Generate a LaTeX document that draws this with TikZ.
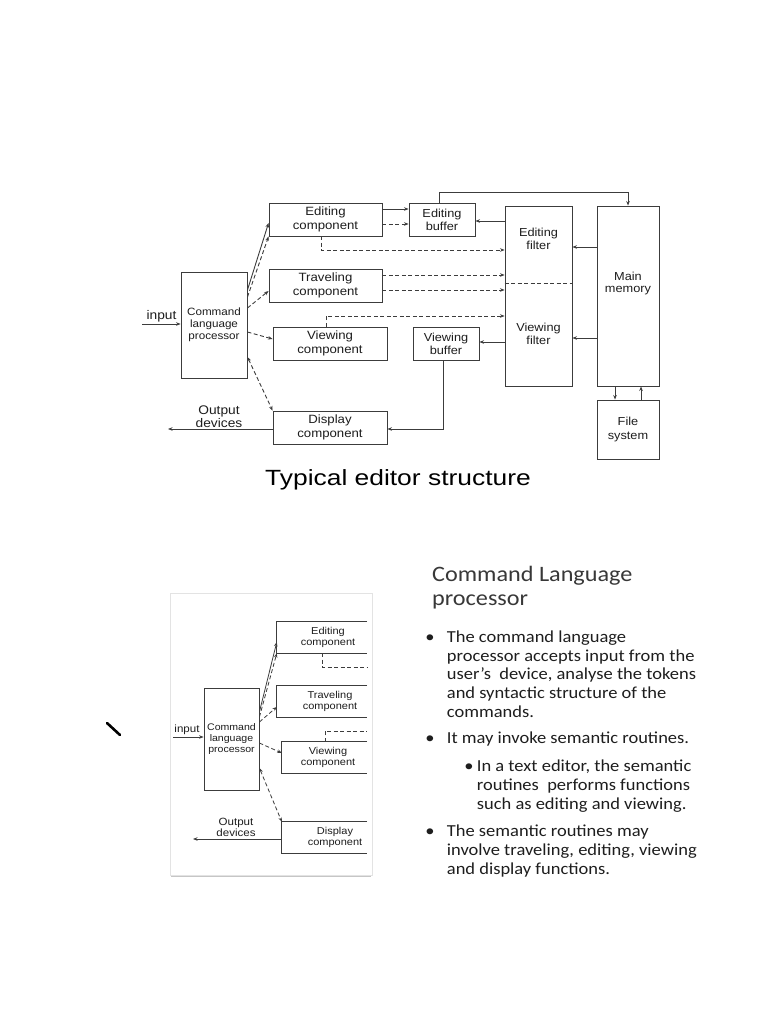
\documentclass[tikz,border=0pt]{standalone}
\usepackage{fontspec}
\usetikzlibrary{arrows.meta}
\newfontfamily\diagf[FakeStretch=1.1]{Liberation Sans}
\newfontfamily\titlef[FakeStretch=1.2]{Liberation Sans}
\newfontfamily\slidef[FakeStretch=1.1]{Carlito}
\definecolor{linec}{HTML}{3C3C3C}
\definecolor{textc}{HTML}{1E1E1E}
\definecolor{headc}{HTML}{383838}
\begin{document}
\begin{tikzpicture}[x=1pt,y=-1pt,
  ln/.style={draw=linec, line width=0.9pt},
  dsh/.style={dash pattern=on 4pt off 2.5pt},
  arr/.style={-{Stealth[length=4.5pt,width=3.5pt]}},
  box/.style={draw=linec, line width=0.9pt, inner sep=0pt, align=center, text=textc,
              font=\diagf\fontsize{11.6}{13.2}\selectfont},
  lbl/.style={inner sep=0pt, align=center, text=textc, font=\diagf\fontsize{11.6}{12.5}\selectfont},
  sbox/.style={inner sep=0pt, align=center, text=textc, font=\diagf\fontsize{10}{11.5}\selectfont},
  sline/.style={anchor=base west, inner sep=0pt, text=textc, font=\slidef\fontsize{16.8}{18.8}\selectfont},
  sdot/.style={anchor=base, inner sep=0pt, text=textc, font=\slidef\fontsize{16.8}{18.8}\selectfont}
]
\useasboundingbox (0,0) rectangle (768,1024);
\fill[white] (0,0) rectangle (768,1024);

% ---------------- top diagram ----------------
\node[box, minimum width=66pt, minimum height=106pt, font=\diagf\fontsize{10.6}{12}\selectfont] (clp) at (214,325) {Command\\language\\processor};
\node[box, minimum width=113pt, minimum height=33pt, font=\diagf\fontsize{12}{13.5}\selectfont] (ec) at (325.5,219.5) {Editing\\component};
\node[box, minimum width=113pt, minimum height=33pt, font=\diagf\fontsize{12}{13.5}\selectfont] (tc) at (325.5,285.5) {Traveling\\component};
\node[box, minimum width=114pt, minimum height=33pt, font=\diagf\fontsize{12}{13.5}\selectfont] (vc) at (330,343.5) {Viewing\\component};
\node[box, minimum width=114pt, minimum height=33pt, font=\diagf\fontsize{12}{13.5}\selectfont] (dc) at (330,427.5) {Display\\component};
\node[box, minimum width=66pt, minimum height=33pt] (eb) at (442,219.5) {Editing\\buffer};
\node[box, minimum width=66pt, minimum height=33pt] (vb) at (446,343.5) {Viewing\\buffer};
\node[box, minimum width=67pt, minimum height=180pt] (ef) at (538.5,296) {};
\node[lbl] (eft) at (538.5,239) {Editing\\filter};
\node[lbl] (vft) at (538.5,334) {Viewing\\filter};
\node[box, minimum width=62pt, minimum height=180pt] (mm) at (628,296) {};
\node[lbl] (mmt) at (628,283.5) {Main\\memory};
\node[box, minimum width=62pt, minimum height=59pt] (fs) at (628,429.5) {File\\system};

\node[lbl, font=\diagf\fontsize{12.5}{13.5}\selectfont] (inl) at (161.5,316) {input};
\coordinate (inS) at (142,324);
\draw[ln,arr] (inS) -- (clp.west |- inS);
\node[lbl, font=\diagf\fontsize{12.5}{13}\selectfont] (outl) at (219,417) {Output\\devices};
\coordinate (outE) at (168,429);
\draw[ln,arr] (dc.west |- outE) -- (outE);

% clp fan-out
\draw[ln,arr] (clp.east |- 0,290) -- (ec.west |- 0,223);
\draw[ln,dsh,arr] (clp.east |- 0,297) -- (ec.south west);
\draw[ln,dsh,arr] (clp.east |- 0,308) -- (tc.west |- 0,291);
\draw[ln,dsh,arr] (clp.east |- 0,332) -- (vc.west |- 0,339);
\draw[ln,dsh,{Stealth[length=4.5pt,width=3.5pt]}-{Stealth[length=4.5pt,width=3.5pt]}] (clp.east |- 0,357) -- (dc.north west);

% editing component links
\draw[ln,arr] (ec.east |- 0,209) -- (eb.west |- 0,209);
\draw[ln,dsh,arr] (ec.east |- 0,224) -- (eb.west |- 0,224);
\draw[ln,dsh,arr] (ec.south -| 321,0) -- (321,250) -- (ef.west |- 0,250);
% traveling
\draw[ln,dsh,arr] (tc.east |- 0,275) -- (ef.west |- 0,275);
\draw[ln,dsh,arr] (tc.east |- 0,290) -- (ef.west |- 0,290);
% viewing
\draw[ln,dsh,arr] (vc.north -| 326,0) -- (326,316) -- (ef.west |- 0,316);
% filters
\draw[ln,dsh] (ef.west |- 0,283) -- (ef.east |- 0,283);
\draw[ln,arr] (ef.west |- 0,221) -- (eb.east |- 0,221);
\draw[ln,arr] (mm.west |- 0,247) -- (ef.east |- 0,247);
\draw[ln,arr] (mm.west |- 0,338) -- (ef.east |- 0,338);
\draw[ln,arr] (ef.west |- 0,342) -- (vb.east |- 0,342);
% viewing buffer to display
\draw[ln,arr] (vb.south -| 443,0) -- (443,429) -- (dc.east |- 0,429);
% editing buffer to main memory
\draw[ln,arr] (eb.north -| 439,0) -- (439,192) -- (628,192) -- (mm.north);
% memory <-> file system
\draw[ln,arr] (mm.south -| 615,0) -- (fs.north -| 615,0);
\draw[ln,arr] (fs.north -| 641,0) -- (mm.south -| 641,0);

\node[inner sep=0pt, text=black, font=\titlef\fontsize{22}{24}\selectfont] (title) at (398,480) {Typical editor structure};

% ---------------- lower-left picture ----------------
\fill[gray!45] (171,872) rectangle (371,877);
\node[draw=gray!22, fill=white, line width=0.8pt, minimum width=202pt, minimum height=282pt, inner sep=0pt] (frame) at (271,734) {};

\node[inner sep=0pt, minimum width=90pt, minimum height=31pt] (ec2) at (322,637.5) {};
\node[inner sep=0pt, minimum width=90pt, minimum height=31pt] (tc2) at (322,701.5) {};
\node[inner sep=0pt, minimum width=85pt, minimum height=31pt] (vc2) at (324.5,757.5) {};
\node[inner sep=0pt, minimum width=85pt, minimum height=31pt] (dc2) at (324.5,837.5) {};
\foreach \b in {ec2,tc2,vc2,dc2}
  \draw[ln,line width=0.8pt] (\b.north east) -- (\b.north west) -- (\b.south west) -- (\b.south east);
\node[sbox] (ec2t) at (328,637.5) {Editing\\component};
\node[sbox] (tc2t) at (330,701.5) {Traveling\\component};
\node[sbox] (vc2t) at (328,757.5) {Viewing\\component};
\node[sbox] (dc2t) at (335,837.5) {Display\\component};
\node[draw=linec, line width=0.8pt, minimum width=55pt, minimum height=102pt, inner sep=0pt, align=center, text=textc, font=\diagf\fontsize{9.6}{11.2}\selectfont] (clp2) at (231.5,739) {Command\\language\\processor};

\node[sbox, font=\diagf\fontsize{10.5}{11.5}\selectfont] (inl2) at (187,730) {input};
\coordinate (inS2) at (173,737);
\draw[ln,line width=0.8pt,arr] (inS2) -- (clp2.west |- inS2);
\node[sbox, font=\diagf\fontsize{10.5}{11.2}\selectfont] (outl2) at (236,827) {Output\\devices};
\coordinate (outE2) at (193,839);
\draw[ln,line width=0.8pt,arr] (dc2.west |- outE2) -- (outE2);

\draw[ln,line width=0.8pt,arr] (clp2.east |- 0,712) -- (ec2.west |- 0,642);
\draw[ln,line width=0.8pt,dsh,arr] (clp2.east |- 0,717) -- (ec2.south west);
\draw[ln,line width=0.8pt,dsh,arr] (clp2.east |- 0,722) -- (tc2.west |- 0,707);
\draw[ln,line width=0.8pt,dsh,arr] (clp2.east |- 0,743) -- (vc2.west |- 0,753);
\draw[ln,line width=0.8pt,dsh,{Stealth[length=4.5pt,width=3.5pt]}-{Stealth[length=4.5pt,width=3.5pt]}] (clp2.east |- 0,768) -- (dc2.north west);
\draw[ln,line width=0.8pt,dsh] (ec2.south -| 322,0) -- (322,667) -- (ec2.east |- 0,667);
\draw[ln,line width=0.8pt,dsh] (vc2.north -| 325,0) -- (325,731) -- (vc2.east |- 0,731);

% stray mark
\draw[line width=2.6pt, line cap=round, black] (107,723) -- (120,735);

% ---------------- slide text ----------------
\node[anchor=base west, inner sep=0pt, text=headc, font=\slidef\fontsize{22}{24}\selectfont] (h1) at (432,581.7) {Command Language};
\node[anchor=base west, inner sep=0pt, text=headc, font=\slidef\fontsize{22}{24}\selectfont] (h2) at (432,605.5) {processor};

\node[sdot] (d1) at (430,642.3) {•};
\node[sline] (b11) at (446.7,642.3) {The command language};
\node[sline] (b12) at (446.7,661.0) {processor accepts input from the};
\node[sline] (b13) at (446.7,679.7) {user’s~ device, analyse the tokens};
\node[sline] (b14) at (446.7,698.4) {and syntactic structure of the};
\node[sline] (b15) at (446.7,717.1) {commands.};
\node[sdot] (d2) at (430,743) {•};
\node[sline] (b21) at (446.7,743) {It may invoke semantic routines.};
\node[sdot] (d3) at (469,771.7) {•};
\node[sline] (b31) at (476.7,771.7) {In a text editor, the semantic};
\node[sline] (b32) at (476.7,790.4) {routines~ performs functions};
\node[sline] (b33) at (476.7,809.1) {such as editing and viewing.};
\node[sdot] (d4) at (430,836.7) {•};
\node[sline] (b41) at (446.7,836.7) {The semantic routines may};
\node[sline] (b42) at (446.7,855.4) {involve traveling, editing, viewing};
\node[sline] (b43) at (446.7,874.1) {and display functions.};
\end{tikzpicture}
\end{document}
